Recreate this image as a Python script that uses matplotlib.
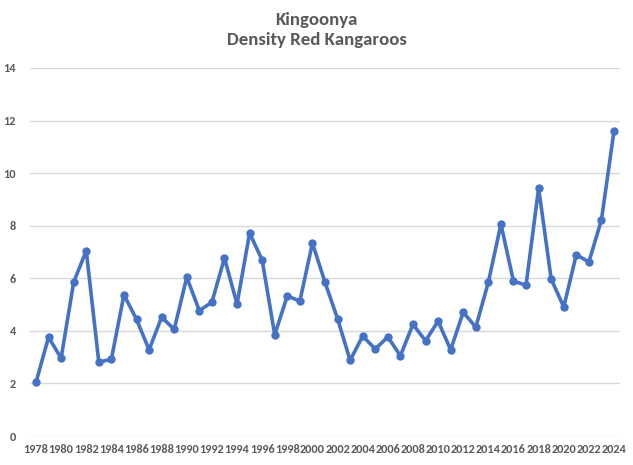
import matplotlib
matplotlib.use("Agg")
import matplotlib.pyplot as plt

# === Data ===
years = list(range(1978, 2025))
density = [2.04, 3.76, 2.96, 5.85, 7.05, 2.81, 2.92, 5.37, 4.44, 3.28,
           4.52, 4.06, 6.04, 4.77, 5.09, 6.77, 5.02, 7.72, 6.69, 3.85,
           5.33, 5.13, 7.34, 5.85, 4.46, 2.88, 3.80, 3.31, 3.77, 3.05,
           4.25, 3.62, 4.37, 3.28, 4.71, 4.14, 5.85, 8.06, 5.89, 5.74,
           9.43, 5.97, 4.91, 6.90, 6.62, 8.22, 11.61]
tick_years = years[::2]
y_ticks = [0, 2, 4, 6, 8, 10, 12, 14]

plt.rcParams['font.family'] = 'Carlito'
plt.rcParams['font.weight'] = 'bold'
grey = "#595959"

fig = plt.figure(figsize=(6.33, 4.65), dpi=100)
W, H = 633, 465
ax = fig.add_axes([29.7 / W, (H - 436) / H, (620.3 - 29.7) / W, (436 - 68) / H])

ax.plot(years, density, color="#4472C4", linewidth=2.6, marker="o",
        markersize=5, zorder=3)

ax.set_xlim(1977.5, 2024.5)
ax.set_ylim(0, 14)
ax.set_yticks(y_ticks)
ax.set_xticks(tick_years)
ax.set_xticklabels([str(y) for y in tick_years])
ax.grid(axis="y", color="#d9d9d9", linewidth=1)
ax.set_axisbelow(True)
for s in ax.spines.values():
    s.set_visible(False)
ax.tick_params(axis="both", length=0, labelsize=8.8, colors=grey)
ax.tick_params(axis="x", pad=6)
ax.tick_params(axis="y", pad=10)
for lbl in ax.get_xticklabels() + ax.get_yticklabels():
    lbl.set_fontweight("bold")

fig.text(0.5, 1 - 30 / H, "Kingoonya\nDensity Red Kangaroos", ha="center",
         va="center", fontsize=13.5, fontweight="bold", color=grey,
         linespacing=1.3)

fig.savefig("out.png", dpi=100)
